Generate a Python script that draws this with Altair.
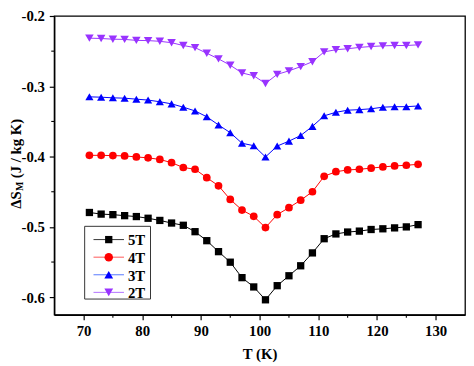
import altair as alt
import pandas as pd

# ---- data ----
T = list(range(71, 128, 2))
s5T = [-0.4795, -0.4818, -0.4826, -0.4840, -0.4853, -0.4877, -0.4908, -0.4945, -0.4977, -0.5068,
       -0.5196, -0.5352, -0.5502, -0.5722, -0.5854, -0.6037, -0.5836, -0.5695, -0.5553, -0.5370,
       -0.5168, -0.5100, -0.5073, -0.5060, -0.5037, -0.5027, -0.5014, -0.5000, -0.4968]
s4T = [-0.3982, -0.3982, -0.3986, -0.3990, -0.4005, -0.4018, -0.4040, -0.4087, -0.4155, -0.4180,
       -0.4300, -0.4415, -0.4610, -0.4760, -0.4850, -0.5010, -0.4826, -0.4726, -0.4620, -0.4500,
       -0.4280, -0.4215, -0.4190, -0.4180, -0.4164, -0.4147, -0.4133, -0.4123, -0.4110]
s3T = [-0.3150, -0.3155, -0.3164, -0.3169, -0.3183, -0.3196, -0.3220, -0.3250, -0.3297, -0.3350,
       -0.3434, -0.3550, -0.3660, -0.3810, -0.3845, -0.4005, -0.3850, -0.3780, -0.3700, -0.3570,
       -0.3420, -0.3370, -0.3340, -0.3332, -0.3320, -0.3297, -0.3290, -0.3290, -0.3280]
s2T = [-0.2315, -0.2320, -0.2330, -0.2333, -0.2347, -0.2350, -0.2360, -0.2380, -0.2420, -0.2450,
       -0.2530, -0.2610, -0.2700, -0.2810, -0.2850, -0.2960, -0.2830, -0.2780, -0.2720, -0.2650,
       -0.2510, -0.2480, -0.2466, -0.2447, -0.2434, -0.2425, -0.2420, -0.2420, -0.2410]

series_names = ["5T", "4T", "3T", "2T"]
series_values = [s5T, s4T, s3T, s2T]
colors = ["#000000", "#ff0000", "#0000ff", "#9933ff"]
legend_line_colors = ["#333333", "#ff5555", "#5577ff", "#b070ff"]
shapes = ["square", "circle", "triangle-up", "triangle-down"]
sizes = [55, 75, 80, 80]

x_major = [70, 80, 90, 100, 110, 120, 130]
x_minor = [75, 85, 95, 105, 115, 125]
y_major = [-0.6, -0.5, -0.4, -0.3, -0.2]
y_minor = [-0.55, -0.45, -0.35, -0.25]

rows = []
for name, vals in zip(series_names, series_values):
    for t, v in zip(T, vals):
        rows.append({"T": t, "dS": v, "field": name})
df = pd.DataFrame(rows)

W, H = 418, 304
FONT = "Liberation Serif"

xscale = alt.Scale(domain=[65, 135], nice=False, zero=False)
yscale = alt.Scale(domain=[-0.625, -0.2], nice=False, zero=False)
color = alt.Color("field:N", scale=alt.Scale(domain=series_names, range=colors), legend=None)
shape = alt.Shape("field:N", scale=alt.Scale(domain=series_names, range=shapes), legend=None)
size = alt.Size("field:N", scale=alt.Scale(domain=series_names, range=sizes), legend=None)

xaxis = alt.Axis(values=x_major, title="T (K)", format="d", tickSize=5, tickWidth=1.2,
                 domainWidth=1.5, domainColor="black", tickColor="black", grid=False,
                 labelFont=FONT, labelFontWeight="bold", labelFontSize=15, labelColor="black",
                 labelPadding=4, titleFont=FONT, titleFontWeight="bold", titleFontSize=15,
                 titleColor="black", titlePadding=9)
yaxis = alt.Axis(values=y_major, title=None, tickSize=5, tickWidth=1.2,
                 domainWidth=1.5, domainColor="black", tickColor="black", grid=False,
                 labelExpr="replace(format(datum.value, '.1f'), '\u2212', '-')",
                 labelFont=FONT, labelFontWeight="bold", labelFontSize=15, labelColor="black",
                 labelPadding=5)

X = alt.X("T:Q", scale=xscale, axis=xaxis)
Y = alt.Y("dS:Q", scale=yscale, axis=yaxis)

base = alt.Chart(df)
lines = base.mark_line(strokeWidth=1).encode(x=X, y=Y, color=color, detail="field:N")
points = base.mark_point(filled=True, opacity=1).encode(x=X, y=Y, color=color, shape=shape, size=size)

# minor ticks
xminor = alt.Chart(pd.DataFrame({"v": x_minor})).mark_rule(color="black", strokeWidth=1.1).encode(
    x=alt.X("v:Q", scale=xscale), y=alt.value(H), y2=alt.value(H + 3))
yminor = alt.Chart(pd.DataFrame({"v": y_minor})).mark_rule(color="black", strokeWidth=1.1).encode(
    y=alt.Y("v:Q", scale=yscale), x=alt.value(0), x2=alt.value(-3))

one = pd.DataFrame({"a": [0]})

# y-axis title with subscript
yc = H / 2
ytitle = [
    alt.Chart(one).mark_text(angle=270, align="left", baseline="middle", font=FONT,
                             fontWeight="bold", fontSize=15, color="black").encode(
        x=alt.value(-39), y=alt.value(yc + 44), text=alt.value("\u0394S")),
    alt.Chart(one).mark_text(angle=270, align="left", baseline="middle", font=FONT,
                             fontWeight="bold", fontSize=10, color="black").encode(
        x=alt.value(-35), y=alt.value(yc + 26), text=alt.value("M")),
    alt.Chart(one).mark_text(angle=270, align="left", baseline="middle", font=FONT,
                             fontWeight="bold", fontSize=15, color="black").encode(
        x=alt.value(-39), y=alt.value(yc + 13), text=alt.value("(J / kg K)")),
]

# legend
lx0, lx1 = 31, 98
ly0, ly1 = H - 90, H - 16
legend_layers = [
    alt.Chart(one).mark_rect(fill="white", stroke="#333333", strokeWidth=1).encode(
        x=alt.value(lx0), x2=alt.value(lx1), y=alt.value(ly0), y2=alt.value(ly1))
]
for i, name in enumerate(series_names):
    yy = H - 76.5 + 17.9 * i
    legend_layers.append(alt.Chart(one).mark_rule(color=legend_line_colors[i], strokeWidth=1).encode(
        x=alt.value(40), x2=alt.value(71), y=alt.value(yy)))
    legend_layers.append(alt.Chart(one).mark_point(filled=True, opacity=1, color=colors[i],
                                                   shape=shapes[i], size=sizes[i]).encode(
        x=alt.value(55.5), y=alt.value(yy)))
    legend_layers.append(alt.Chart(one).mark_text(align="left", baseline="middle", font=FONT,
                                                  fontWeight="bold", fontSize=15, color="black").encode(
        x=alt.value(75), y=alt.value(yy + 1), text=alt.value(name)))

chart = alt.layer(lines, points, xminor, yminor, *ytitle, *legend_layers).properties(
    width=W, height=H,
    autosize=alt.AutoSizeParams(type="none"),
    padding={"left": 47, "top": 5, "right": 1, "bottom": 50},
    background="white",
).configure_view(stroke="black", strokeWidth=1.3)

chart.save("out.html", embed_options={"renderer": "svg", "actions": False})
